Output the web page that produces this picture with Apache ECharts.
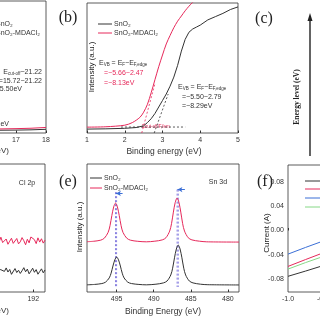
<!DOCTYPE html>
<html>
<head>
<meta charset="utf-8">
<script src="https://cdn.jsdelivr.net/npm/echarts@6/dist/echarts.min.js"></script>
<style>
  html, body { margin: 0; padding: 0; background: #fff; }
  #chart { width: 320px; height: 320px; }
</style>
</head>
<body>
<div id="chart"></div>
<script>
// ---- data ----
// (a) cut-off region, only the right end is visible
var aX = [14.5, 15.5, 16.5, 17.0, 17.5, 18.0];
var aBlackY = [2.0, 2.0, 2.1, 2.2, 2.4, 2.8];
var aRedY = [3.0, 3.0, 3.1, 3.3, 3.6, 4.2];

// (b) valence band edge, binding energy (eV) vs intensity (a.u.)
var bBlackX = [1.0, 1.5, 2.0, 2.3, 2.5, 2.6, 2.7, 2.8, 2.9, 3.0, 3.1, 3.2, 3.3, 3.4, 3.5, 3.6, 3.7, 3.8, 3.9, 4.0, 4.2, 4.4, 4.6, 4.8, 5.0];
var bBlackY = [3.0, 3.2, 3.6, 4.2, 5.5, 8, 11, 15, 20, 25, 30, 36, 43, 52, 63, 72, 77.5, 80, 81.5, 83, 87, 89.5, 92, 95, 97];
var bRedX = [1.0, 1.5, 2.0, 2.2, 2.4, 2.5, 2.6, 2.7, 2.8, 2.9, 3.0, 3.1, 3.2, 3.3, 3.4, 3.5, 3.6, 3.7, 3.8, 3.9];
var bRedY = [4.5, 4.8, 6, 8, 12, 16, 22, 31, 41, 51, 60, 68.5, 75, 81, 86, 90, 94, 97.5, 100.5, 103];
var bBaseX = [1.9, 3.6], bBaseY = [4.6, 4.6];
var bRedTanX = [2.45, 2.8], bRedTanY = [0, 38];
var bBlackTanX = [2.78, 3.15], bBlackTanY = [0, 30];

// (d) Cl 2p, only the low binding energy end is visible
var dX = [191.0, 191.15, 191.3, 191.45, 191.6, 191.75, 191.9, 192.05, 192.2, 192.35, 192.5, 192.65, 192.8, 192.95, 193.1, 193.25, 193.4, 193.55, 193.7, 193.85, 194.0, 194.15, 194.3, 194.45, 194.6, 194.75, 194.9, 195.05, 195.2, 195.35, 195.5];
var dRedY = [40.5, 38.2, 41.6, 39.0, 42.3, 37.8, 40.9, 39.5, 43.0, 38.4, 41.2, 36.9, 40.1, 42.5, 39.2, 37.6, 41.8, 40.3, 38.0, 42.0, 39.7, 37.3, 41.4, 40.0, 38.6, 42.8, 39.1, 40.7, 37.9, 41.0, 39.4];
var dBlackY = [17.2, 15.0, 18.1, 16.0, 13.9, 17.5, 15.4, 18.6, 16.3, 14.2, 17.9, 15.8, 19.0, 16.6, 14.5, 17.0, 15.2, 18.3, 16.8, 13.8, 17.6, 15.6, 18.8, 16.1, 14.8, 17.4, 15.9, 18.0, 16.4, 14.6, 17.1];

// (e) Sn 3d
var eRedX = [499.0, 498.15, 497.15, 496.65, 496.15, 495.9, 495.65, 495.4, 495.15, 494.9, 494.65, 494.4, 494.15, 493.65, 493.15, 492.15, 491.0,
  489.85, 488.85, 488.35, 487.85, 487.6, 487.35, 487.1, 486.85, 486.6, 486.35, 486.1, 485.85, 485.35, 484.85, 483.85, 482.85, 478.5];
var eRedY = [39.3, 39.6, 40.5, 42.1, 46.6, 51.8, 59.7, 66.5, 69.5, 66.5, 59.7, 51.8, 46.6, 42.1, 40.5, 39.6, 39.2,
  39.7, 40.7, 42.4, 47.6, 53.4, 62.4, 70.0, 73.4, 70.0, 62.4, 53.4, 47.6, 42.4, 40.7, 39.7, 39.2, 39.0];
var eBlackX = [499.0, 498.0, 497.0, 496.5, 496.0, 495.75, 495.5, 495.25, 495.0, 494.75, 494.5, 494.25, 494.0, 493.5, 493.0, 492.0, 491.0,
  489.7, 488.7, 488.2, 487.7, 487.45, 487.2, 486.95, 486.7, 486.45, 486.2, 485.95, 485.7, 485.2, 484.7, 483.7, 482.7, 478.5];
var eBlackY = [5.6, 5.9, 6.6, 7.7, 11.0, 14.7, 20.3, 25.1, 27.3, 25.1, 20.3, 14.7, 11.0, 7.7, 6.6, 5.9, 5.6,
  6.1, 7.1, 8.6, 13.3, 18.6, 26.7, 33.6, 36.7, 33.6, 26.7, 18.6, 13.3, 8.6, 7.1, 6.1, 5.7, 5.5];
var eGuideL = [[495.15, 78], [495.15, 4]], eGuideL2 = [[495.0, 78], [495.0, 4]];
var eGuideR = [[486.85, 80], [486.85, 4]], eGuideR2 = [[486.7, 80], [486.7, 4]];
var eShift = [[[494.2, 77], [495.1, 77]], [[485.8, 80], [486.8, 80]]];

// (f) I-V, only the left end is visible
var fX = [-1.0, -0.75, -0.5, -0.25];
var fBlack = [-0.0756, -0.067, -0.058, -0.049];
var fRed = [-0.0593, -0.048, -0.037, -0.026];
var fBlue = [-0.039, -0.028, -0.0175, -0.007];
var fGreen = [-0.0637, -0.053, -0.043, -0.033];

var eTicks = [480, 485, 490, 495];
var fYTicks = [-0.08, -0.04, 0, 0.04, 0.08];
var fXTicks = [-1.0, -0.5, 0, 0.5, 1.0];
var dTicks = [192, 196, 200, 204, 208];

var BLACK = '#333', RED = '#e6285a', BLUE = '#3b6fd6', GREEN = '#86d886', GUIDE = '#6a5fd8';
var FONT = '"Liberation Sans", Arial, sans-serif';
var SERIF = '"Liberation Serif", "Times New Roman", serif';

function zip(xs, ys) { return xs.map(function (x, i) { return [x, ys[i]]; }); }

function axisX(o) {
  return Object.assign({
    type: 'value', axisLine: { show: false },
    axisTick: { inside: true, length: 2.5, lineStyle: { color: BLACK } },
    axisLabel: { fontSize: 7, color: BLACK, margin: 3.5, fontFamily: FONT },
    splitLine: { show: false }
  }, o);
}
function axisY(o) {
  return Object.assign({
    type: 'value', min: 0, max: 100, axisLine: { show: false },
    axisTick: { show: false }, axisLabel: { show: false }, splitLine: { show: false }
  }, o);
}
function line(grid, data, color, o) {
  return Object.assign({
    type: 'line', xAxisIndex: grid, yAxisIndex: grid, data: data, symbol: 'none',
    lineStyle: { color: color, width: 1 }, clip: true, animation: false, silent: true
  }, o);
}
function dashed(grid, data, color) {
  return line(grid, data, color, { lineStyle: { color: color, width: 0.8, type: [2, 2] } });
}
function txt(x, y, text, size, color, align, font) {
  return {
    type: 'text', x: x, y: y, silent: true,
    style: { text: text, fill: color || BLACK, font: (size || 7) + 'px ' + (font || FONT),
      textAlign: align || 'left', align: align || 'left', textVerticalAlign: 'middle', verticalAlign: 'middle' }
  };
}
function richTxt(x, y, text, color, align) {
  var el = txt(x, y, text, 7, color, align);
  el.style.rich = {
    n: { fontSize: 7, fontFamily: FONT, fill: color, color: color },
    s: { fontSize: 4.5, fontFamily: FONT, fill: color, color: color, padding: [3, 0, 0, 0] }
  };
  return el;
}
function rotTxt(x, y, text, size, font, weight) {
  var el = txt(x, y, text, size, '#222', 'center');
  el.rotation = Math.PI / 2;
  el.style.font = (weight || '') + ' ' + size + 'px ' + (font || FONT);
  return el;
}
function seg(x1, y1, x2, y2, color) {
  return { type: 'line', silent: true, shape: { x1: x1, y1: y1, x2: x2, y2: y2 }, style: { stroke: color, lineWidth: 1 } };
}
function box(o) {
  return Object.assign({ show: true, borderColor: BLACK, borderWidth: 0.8, backgroundColor: 'transparent',
    containLabel: false, outerBoundsMode: 'none' }, o);
}

var chart = echarts.init(document.getElementById('chart'));
chart.setOption({
  backgroundColor: '#fff',
  animation: false,
  grid: [
    box({ left: -344, top: 1, width: 390, height: 132 }),   // a
    box({ left: 87, top: 3, width: 151, height: 130 }),     // b
    box({ left: -155, top: 164, width: 200, height: 128 }), // d
    box({ left: 87, top: 164, width: 152, height: 128 }),   // e
    box({ left: 288, top: 165, width: 140, height: 127 })   // f
  ],
  xAxis: [
    axisX({ gridIndex: 0, min: 5, max: 18, interval: 1 }),
    axisX({ gridIndex: 1, min: 1, max: 5, interval: 1 }),
    axisX({ gridIndex: 2, min: 191, max: 208, inverse: true,
      axisTick: { inside: true, length: 2.5, lineStyle: { color: BLACK }, customValues: dTicks },
      axisLabel: { fontSize: 7, color: BLACK, margin: 3.5, fontFamily: FONT, customValues: dTicks } }),
    axisX({ gridIndex: 3, min: 478.5, max: 499, inverse: true,
      axisTick: { inside: true, length: 2.5, lineStyle: { color: BLACK }, customValues: eTicks },
      axisLabel: { fontSize: 7, color: BLACK, margin: 3.5, fontFamily: FONT, customValues: eTicks } }),
    axisX({ gridIndex: 4, min: -1, max: 1,
      axisTick: { inside: true, length: 2.5, lineStyle: { color: BLACK }, customValues: fXTicks },
      axisLabel: { fontSize: 7, color: BLACK, margin: 3.5, fontFamily: FONT, customValues: fXTicks,
        formatter: function (v) { return v.toFixed(1); } } })
  ],
  yAxis: [
    axisY({ gridIndex: 0 }),
    axisY({ gridIndex: 1 }),
    axisY({ gridIndex: 2 }),
    axisY({ gridIndex: 3 }),
    axisY({ gridIndex: 4, min: -0.1015, max: 0.108,
      axisTick: { show: true, inside: true, length: 2.5, lineStyle: { color: BLACK }, customValues: fYTicks },
      axisLabel: { show: true, fontSize: 7, color: BLACK, margin: 4, fontFamily: FONT, customValues: fYTicks,
        formatter: function (v) { return v.toFixed(2); } } })
  ],
  series: [
    line(0, zip(aX, aBlackY), BLACK),
    line(0, zip(aX, aRedY), RED),
    dashed(1, zip(bBaseX, bBaseY), BLACK),
    dashed(1, zip(bRedTanX, bRedTanY), RED),
    dashed(1, zip(bBlackTanX, bBlackTanY), BLACK),
    line(1, zip(bBlackX, bBlackY), BLACK),
    line(1, zip(bRedX, bRedY), RED, { smooth: 0.3 }),
    line(2, zip(dX, dRedY), RED),
    line(2, zip(dX, dBlackY), BLACK),
    dashed(3, eGuideL, GUIDE),
    dashed(3, eGuideL2, GUIDE),
    dashed(3, eGuideR, GUIDE),
    dashed(3, eGuideR2, GUIDE),
    line(3, zip(eRedX, eRedY), RED, { smooth: 0.3 }),
    line(3, zip(eBlackX, eBlackY), BLACK, { smooth: 0.3 }),
    line(3, [], GUIDE, {
      markLine: {
        silent: true, symbol: ['none', 'arrow'], symbolSize: [4, 5], label: { show: false },
        lineStyle: { color: BLUE, width: 1, type: 'solid' },
        data: eShift.map(function (p) { return [{ coord: p[0] }, { coord: p[1] }]; })
      }
    }),
    line(4, zip(fX, fBlack), BLACK),
    line(4, zip(fX, fRed), RED),
    line(4, zip(fX, fBlue), BLUE),
    line(4, zip(fX, fGreen), GREEN)
  ],
  graphic: [
    // (a) fragments
    txt(-4, 24, 'SnO₂', 7),
    txt(-4, 33, 'SnO₂-MDACl₂', 7),
    richTxt(42, 72, '{n|E}{s|cut-off}{n|−21.22}', BLACK, 'right'),
    txt(42, 81, '=15.72−21.22', 7, BLACK, 'right'),
    txt(22, 89, '=−5.50eV', 7, BLACK, 'right'),
    txt(9, 124, '0.12eV', 7, BLACK, 'right'),
    txt(9, 151, '(eV)', 8, BLACK, 'right'),
    // (b)
    txt(68, 18, '(b)', 16, '#222', 'center', SERIF),
    rotTxt(92, 67, 'Intensity (a.u.)', 8),
    seg(98, 24, 112, 24, BLACK),
    seg(98, 33, 112, 33, RED),
    txt(114, 24, 'SnO₂', 7),
    txt(114, 33, 'SnO₂-MDACl₂', 7),
    richTxt(99, 63, '{n|E}{s|VB}{n| = E}{s|F}{n|−E}{s|F,edge}', BLACK),
    txt(104, 73, '=−5.66−2.47', 7, RED),
    txt(104, 83, '=−8.13eV', 7, RED),
    richTxt(178, 87, '{n|E}{s|VB}{n| = E}{s|F}{n|−E}{s|F,edge}', BLACK),
    txt(182, 97, '=−5.50−2.79', 7, BLACK),
    txt(182, 106, '=−8.29eV', 7, BLACK),
    richTxt(142, 125, '{s|E}{s|cut-off/F,fem}', RED),
    txt(164, 152, 'Binding energy (eV)', 8.5, BLACK, 'center'),
    // (c)
    txt(264, 19, '(c)', 16, '#222', 'center', SERIF),
    { type: 'line', silent: true, shape: { x1: 310, y1: 156, x2: 310, y2: 20 }, style: { stroke: '#222', lineWidth: 1.4 } },
    { type: 'polygon', silent: true, shape: { points: [[310, 13], [307.5, 21], [312.5, 21]] }, style: { fill: '#222' } },
    rotTxt(297, 97, 'Energy level (eV)', 7.5, SERIF, 'bold'),
    // (d)
    txt(27, 183, 'Cl 2p', 7, BLACK, 'center'),
    txt(9, 311, '(eV)', 8, BLACK, 'right'),
    // (e)
    txt(68, 182, '(e)', 16, '#222', 'center', SERIF),
    rotTxt(80, 227, 'Intensity (a.u.)', 8),
    seg(90, 178, 102, 178, BLACK),
    seg(90, 188, 102, 188, RED),
    txt(104, 178, 'SnO₂', 7),
    txt(104, 188, 'SnO₂-MDACl₂', 7),
    txt(218, 182, 'Sn 3d', 7, BLACK, 'center'),
    txt(163, 312, 'Binding Energy (eV)', 8.5, BLACK, 'center'),
    // (f)
    txt(265, 182, '(f)', 16, '#222', 'center', SERIF),
    rotTxt(267, 233, 'Current (A)', 8),
    seg(305, 181, 322, 181, BLACK),
    seg(305, 189, 322, 189, RED),
    seg(305, 198, 322, 198, BLUE),
    seg(305, 207, 322, 207, GREEN)
  ]
});
</script>
</body>
</html>
